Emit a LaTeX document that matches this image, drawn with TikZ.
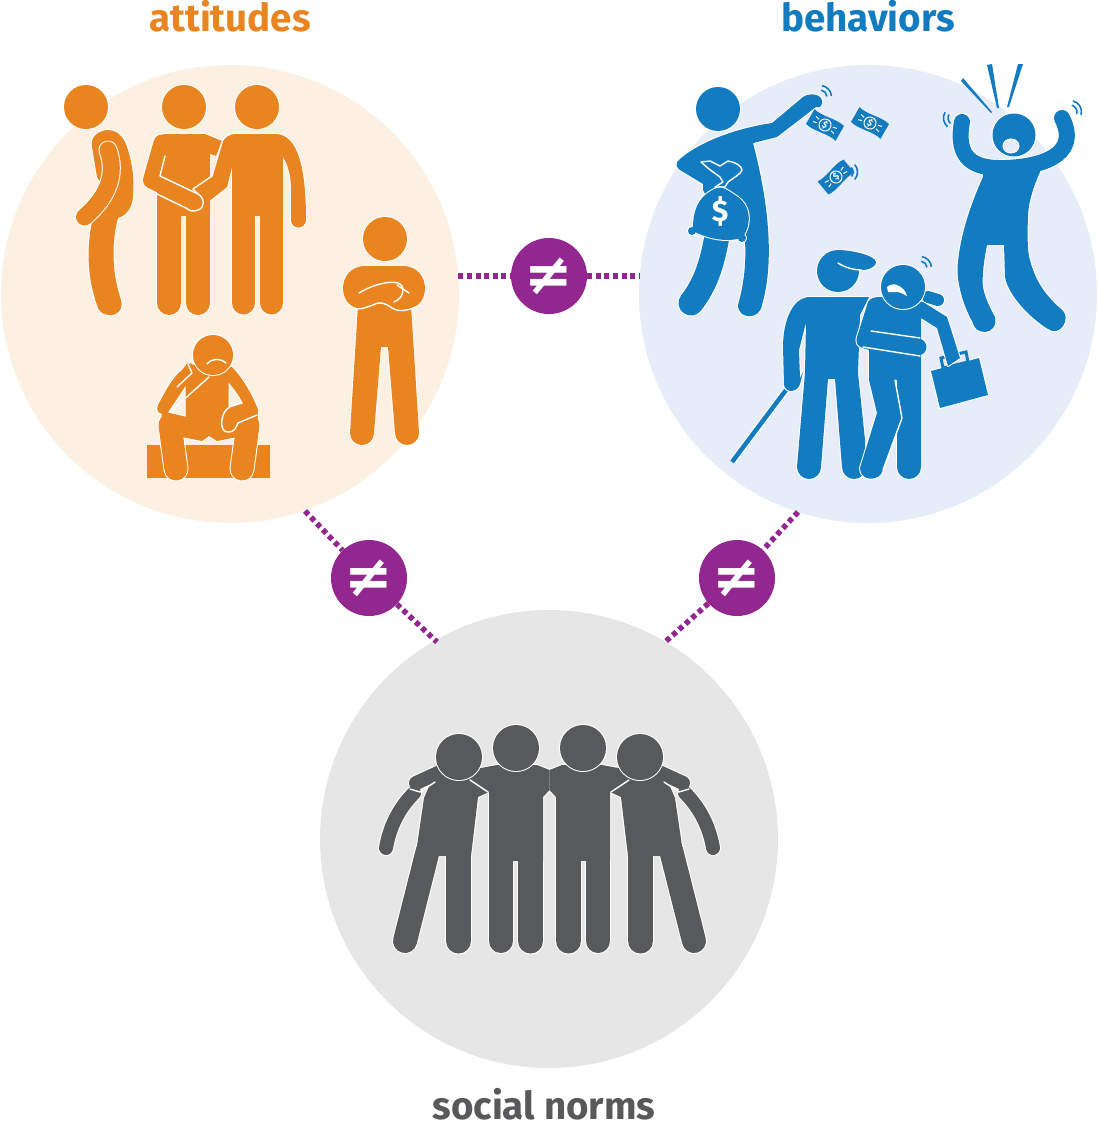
\documentclass[tikz,border=0pt]{standalone}
\usepackage{fontspec}
\setmainfont{Fira Sans}
\newfontfamily\neqfont{DejaVu Sans}
\definecolor{cOrange}{HTML}{E98520}
\definecolor{cBlue}{HTML}{137CC1}
\definecolor{cGrey}{HTML}{58595B}
\definecolor{cPurple}{HTML}{92278F}
\definecolor{bgOrange}{HTML}{FCF0E3}
\definecolor{bgBlue}{HTML}{E6ECF8}
\definecolor{bgGrey}{HTML}{E6E6E6}
\tikzset{
  disc/.style={circle,inner sep=0pt,minimum size=458pt,draw=none},
  badge/.style={circle,inner sep=0pt,minimum size=76pt,fill=cPurple,text=white,font=\neqfont\bfseries\fontsize{58}{58}\selectfont},
  dots/.style={draw=cPurple,line width=5.5pt,dash pattern=on 5pt off 3.6pt},
  title/.style={anchor=base,inner sep=0pt,font=\bfseries\fontsize{38.5}{38.5}\selectfont},
  wl/.style={draw=white,line width=1.4pt,line cap=round,line join=round},
  wave/.style={draw=cBlue,line width=1.6pt},
}
\newcommand\sketchpass[2]{%
  \begin{scope}[sil/.style={fill=white,draw=white,line width=2pt,line join=round},
                limbs/.style={draw=white,line width=##1+2,line cap=round,line join=round}]#2\end{scope}%
  \begin{scope}[sil/.style={fill=#1,draw=none},
                limbs/.style={draw=#1,line width=##1,line cap=round,line join=round}]#2\end{scope}}
\newcommand\waves[4]{%
  \draw[wave] (#1,#2) ++(#3:7) arc (#3:#4:7);
  \draw[wave] (#1,#2) ++(#3:11.5) arc (#3:#4:11.5);}
\newcommand\bill[4]{%
  \begin{scope}[shift={(#1,#2)},rotate=#3]
    \fill[cBlue] (-17,-8.5) .. controls (-8,-5.5) and (8,-11.5) .. (17,-8.5) -- (17,8.5) .. controls (8,5.5) and (-8,11.5) .. (-17,8.5) -- cycle;
    \draw[white,line width=1pt] (0,0) circle (6);
    \draw[white,line width=1pt] (-12,-3) -- (-8,-2) (-12,3) -- (-8,2) (12,-3) -- (8,-2) (12,3) -- (8,2);
    \node[text=white,inner sep=0pt,rotate=#3,font=\bfseries\fontsize{9}{9}\selectfont] (#4) at (0,0) {\$};
  \end{scope}}
\newcommand\halfnorm{%
  \path[sil] (437,768) -- (475,770) -- (489,792) -- (478,797) -- (471,856) -- (439,856) -- (417,846) -- (424,798) -- cycle;
  \path[limbs=14] (416,783) -- (440,772);
  \path[limbs=14] (414,793) .. controls (397,810) and (389,830) .. (386,848);
  \path[limbs=24] (428,850) -- (405,941);
  \path[limbs=25] (458.5,850) -- (458.5,941);
  \path[sil] (470,770) -- (497,765) -- (537,765) -- (549.5,770) -- (549.5,790) -- (543,797) -- (543,861) -- (489,861) -- (489,792) -- cycle;
  \path[limbs=24] (501,855) -- (501,941);
  \path[limbs=25] (530.5,855) -- (530.5,941);}
\begin{document}
\begin{tikzpicture}[x=1pt,y=-1pt]
\useasboundingbox (0,0) rectangle (1098,1122);
% discs
\node[disc,fill=bgOrange] (attitudes) at (230,294) {};
\node[disc,fill=bgBlue] (behaviors) at (868,294) {};
\node[disc,fill=bgGrey] (norms) at (549,839) {};
% badges
\node[badge] (neqTop) at (549,276) {≠};
\node[badge] (neqLeft) at (369,578) {≠};
\node[badge] (neqRight) at (737,578) {≠};
% connector ends on the discs' rims
\coordinate (endAttR) at (458.3,276);
\coordinate (endBehL) at (639.7,276);
\coordinate (endAttB) at (305,511);
\coordinate (endNormL) at (437,642);
\coordinate (endBehB) at (798,512);
\coordinate (endNormR) at (665,642);
\draw[dots] (endAttR) -- (neqTop);
\draw[dots] (neqTop) -- (endBehL);
\draw[dots] (endAttB) -- (neqLeft);
\draw[dots] (neqLeft) -- (endNormL);
\draw[dots] (endBehB) -- (neqRight);
\draw[dots] (neqRight) -- (endNormR);
% titles
\node[title,text=cOrange] (tAtt) at (230,31) {attitudes};
\node[title,text=cBlue] (tBeh) at (868,31) {behaviors};
\node[title,text=cGrey] (tNorm) at (544,1119) {social norms};

% --- figure: back turned
\sketchpass{cOrange}{
  \path[sil] (86,107) circle (22);
  \path[sil] (92,147) .. controls (90,135) and (100,131) .. (107,130) .. controls (120,130) and (125,140) .. (128,150) .. controls (134,170) and (134,185) .. (133,195) .. controls (133,207) and (126,216) .. (118,218) .. controls (112,240) and (111,270) .. (121,300) .. controls (124,310) and (116,316) .. (109,315) .. controls (102,315) and (98,310) .. (97,305) .. controls (88,280) and (86,250) .. (92,222) -- (105,190) -- (97,177) -- cycle;
}
\sketchpass{cOrange}{
  \path[limbs=17] (108,150) .. controls (116,172) and (110,195) .. (84.5,217);
}
% --- figures: two men
\sketchpass{cOrange}{
  \path[sil] (184,107) circle (22);
  \path[sil] (257,107) circle (22);
  \path[sil] (163,134) -- (205,134) -- (222,141) -- (216,156) -- (210,154) -- (210,216) -- (157,216) -- (157,170) -- cycle;
  \path[limbs=17] (162,143) -- (151.5,180) -- (195,202);
  \path[limbs=24] (169,210) -- (169,303);
  \path[limbs=24] (198,210) -- (198,303);
  \path[sil] (235,134) -- (277,134) .. controls (297,136) and (306,165) .. (306,220) arc (0:180:7.5) -- (291,190) .. controls (291,175) and (288,165) .. (283,157) -- (283,216) -- (232,216) -- (232,167) -- (227,187) -- (198,210) -- (193,189) -- (210,177) -- (222,143) .. controls (225,137) and (230,134) .. (235,134) -- cycle;
  \path[limbs=23] (243.5,210) -- (243.5,303);
  \path[limbs=23] (271.5,210) -- (271.5,303);
}
\fill[bgOrange] (210,154) -- (216,156) -- (212,176) -- (210,177) -- cycle;
\draw[wl] (165,156) -- (160,176) -- (198,194) .. controls (205,198) and (205,208) .. (198,210) .. controls (193,212) and (190,211) .. (186,208) -- (157,194);
\draw[wl] (193,189) -- (212,176) -- (222,142);
\draw[wl] (198,194) -- (193,189);
% --- figure: arms crossed
\sketchpass{cOrange}{
  \path[sil] (385,239) circle (22);
  \path[sil] (358,305) -- (350,433) arc (180:0:12) -- (381,347) -- (388,347) -- (395,433) arc (180:0:12) -- (411,305) -- cycle;
  \path[sil] (365,266) -- (403,266) .. controls (418,266) and (425,278) .. (425,288) .. controls (425,302) and (415,310) .. (403,310) -- (365,310) .. controls (353,310) and (343,302) .. (343,288) .. controls (343,278) and (350,266) .. (365,266) -- cycle;
}
\draw[wl] (359,293) .. controls (375,283) and (395,280) .. (400,284) .. controls (405,287) and (404,298) .. (394,302);
\draw[wl] (397,285) -- (409,293);
\draw[wl] (349,305) .. controls (358,312) and (363,308) .. (373,305) .. controls (380,301) and (385,303) .. (392,308) .. controls (400,313) and (410,310) .. (420,305);
% --- figure: seated
\fill[cOrange] (147,445) rectangle (270,478);
\sketchpass{cOrange}{
  \path[sil] (194,365) -- (188,362) -- (183,369) .. controls (172,378) and (166,390) .. (158,405) .. controls (156,410) and (158,413) .. (162,414) -- (160,425) -- (182,437) -- (202,441) -- (209,436) -- (217,441) -- (237,437) -- (257,425) -- (258,414) .. controls (259,411) and (258,409) .. (257,407) .. controls (250,390) and (240,375) .. (232,367) -- cycle;
  \path[limbs=23] (170,425) -- (176,469);
  \path[limbs=23] (248,425) -- (242,469);
}
\filldraw[fill=bgOrange,draw=white,line width=1pt] (169,412) -- (185,416) -- (185,388) -- cycle;
\filldraw[fill=bgOrange,draw=white,line width=1pt] (229,384) -- (229,407) -- (242,403) .. controls (238,395) and (234,390) .. (229,384) -- cycle;
\draw[wl] (242,403) .. controls (232,405) and (226,408) .. (224,413) .. controls (220,422) and (221,432) .. (228,432) .. controls (236,432) and (236,426) .. (238,423) -- (257,415);
\draw[wl] (193,358) -- (188,364) -- (192,373) -- (177,387);
\draw[wl] (209,377) -- (170,412);
\sketchpass{cOrange}{\path[sil] (213,355) circle (20);}
\draw[wl] (207,364) .. controls (212,358) and (220,358) .. (226,363);

% --- figure: money
\sketchpass{cBlue}{
  \path[sil] (718,109) circle (22);
  \path[sil] (677,162) .. controls (690,148) and (725,130) .. (772,123) -- (803,97) .. controls (810,92) and (824,94) .. (822,104) .. controls (820,108) and (818,108) .. (816,107) -- (777,137) -- (753,143) .. controls (768,200) and (775,260) .. (762,305) .. controls (760,320) and (738,320) .. (738,305) .. controls (745,280) and (746,260) .. (745,240) -- (730,240) -- (703,190) -- (703,184) -- (680,170) .. controls (676,167) and (676,164) .. (677,162) -- cycle;
  \path[limbs=25] (717,236) .. controls (712,265) and (705,285) .. (691,303);
}
\sketchpass{cBlue}{
  \path[sil] (720,187) .. controls (703,192) and (692,205) .. (693,231) .. controls (710,240) and (728,242) .. (742,238) .. controls (752,225) and (752,205) .. (735,195) .. controls (728,190) and (724,188) .. (720,187) -- cycle;
  \path[sil] (692,231) circle (4);
  \path[sil] (742,238) circle (4);
}
\draw[wl] (701,162) -- (710,161) -- (720,166) -- (728,161) .. controls (735,162) and (742,166) .. (742,170) .. controls (741,174) and (733,178) .. (728,182) -- (725,187) -- (715,187);
\draw[wl] (701,162) -- (709,169) -- (720,177) -- (723,182) -- (715,187);
\node[text=white,inner sep=0pt,font=\bfseries\fontsize{30}{30}\selectfont] (bagSign) at (720,211) {\$};
\waves{820}{97}{-80}{-5}
\bill{825}{125}{-30}{billA}
\bill{870}{123}{-30}{billB}
\bill{836}{177}{40}{billC}
\waves{846}{172}{-40}{40}

% --- figure: screaming
\fill[cBlue] (961,81) -- (963,78) -- (992,112) -- (991,113) -- cycle;
\fill[cBlue] (987,65) -- (992,64) -- (999,108) -- (997,108) -- cycle;
\fill[cBlue] (1018,64) -- (1023,64) -- (1009,107) -- (1007,107) -- cycle;
\sketchpass{cBlue}{
  \path[limbs=16] (962,122) .. controls (955,160) and (975,169) .. (1005,168) .. controls (1035,167) and (1082,158) .. (1062,118);
  \path[sil] (983,172) -- (1040,168) -- (1040,172) .. controls (1032,190) and (1028,205) .. (1028,217) .. controls (1027,240) and (1028,255) .. (1030,260) .. controls (1035,280) and (1045,295) .. (1060,308) .. controls (1068,314) and (1066,322) .. (1063,326) .. controls (1060,331) and (1053,333) .. (1048,329) .. controls (1030,318) and (1008,295) .. (1005,277) -- (1004,245) -- (987,245) .. controls (983,265) and (982,280) .. (983,287) .. controls (985,298) and (990,308) .. (995,317) .. controls (997,325) and (992,332) .. (985,332) .. controls (978,332) and (974,328) .. (973,323) .. controls (960,300) and (956,275) .. (958,262) .. controls (960,240) and (968,210) .. (983,177) -- cycle;
}
\sketchpass{cBlue}{\path[sil] (1014,135) circle (21.5);}
\filldraw[fill=bgBlue,draw=white,line width=1pt] (1011,146) ellipse (8 and 7);
\waves{955}{118}{-150}{-230}
\waves{1070}{112}{-75}{15}

% --- figure: cane
\draw[white,line width=6.5pt] (786,390) -- (732,462);
\draw[cBlue,line width=4.5pt] (786,390) -- (732,462);
\sketchpass{cBlue}{
  \path[sil] (838,271) circle (21);
  \path[sil] (838,250) .. controls (850,250) and (875,255) .. (876,262) .. controls (876,268) and (865,271) .. (858,270) -- (838,262) -- cycle;
  \path[sil] (810,297) -- (869,297) -- (860,315) -- (858,373) -- (865,440) -- (866,467) arc (0:180:12) -- (835,379) -- (828,379) -- (821,467) arc (0:180:12) -- (805,373) -- (806,322) -- (799,350) -- (800,378) -- (803,372) -- (800,384) .. controls (798,392) and (786,394) .. (784,385) -- (783,347) .. controls (783,320) and (793,297) .. (810,297) -- cycle;
}
\draw[wl] (838,263) .. controls (846,268) and (854,270) .. (862,270);
% --- figure: briefcase man
\sketchpass{cBlue}{
  \path[sil] (931,371) -- (979,358) -- (988,395) -- (940,408) -- cycle;
}
\filldraw[fill=bgBlue,draw=cBlue,line width=3pt] (941,358) -- (966,352) -- (968,362) -- (943,368) -- cycle;
\sketchpass{cBlue}{
  \path[limbs=12] (928,297) -- (938,300);
  \path[sil] (868,302) .. controls (870,298) and (875,297) .. (880,297) -- (923,302) -- (947,317) -- (960,358) -- (948,366) -- (937,328) -- (921,318) -- (921,467) arc (0:180:12) -- (897,380) -- (895,380) -- (902,418) -- (883,470) .. controls (880,482) and (860,482) .. (860,468) -- (877,413) -- (869,380) -- (869,350) -- (860,347) .. controls (856,344) and (856,340) .. (857,337) -- cycle;
  \path[limbs=17] (868,339) -- (918,347);
}
\draw[wl] (871,331) -- (920,338);
\draw[wl] (863,347) -- (920,356);
\draw[wl] (895,380) -- (902,418) -- (883,470);
\sketchpass{cBlue}{\path[sil] (903,287) circle (22);}
\fill[white] (887,287) .. controls (890,284) and (895,284) .. (897,285) .. controls (902,287) and (906,291) .. (907,296) .. controls (903,294) and (900,292) .. (897,292) -- (888,292) -- cycle;
\waves{920}{268}{-80}{-5}

% --- figure group: social norms
\sketchpass{cGrey}{
  \halfnorm
  \begin{scope}[xshift=1099pt,xscale=-1]\halfnorm\end{scope}
}
\draw[wl] (410,789) -- (420,792) -- (435,782);
\draw[wl] (470,780) -- (488,792);
\draw[wl] (689,789) -- (679,792) -- (664,782);
\draw[wl] (629,780) -- (611,792);
\sketchpass{cGrey}{
  \path[sil] (516,748) circle (23);
  \path[sil] (583,748) circle (23);
}
\sketchpass{cGrey}{
  \path[sil] (459,757) circle (23);
  \path[sil] (640,757) circle (23);
}
\end{tikzpicture}
\end{document}
